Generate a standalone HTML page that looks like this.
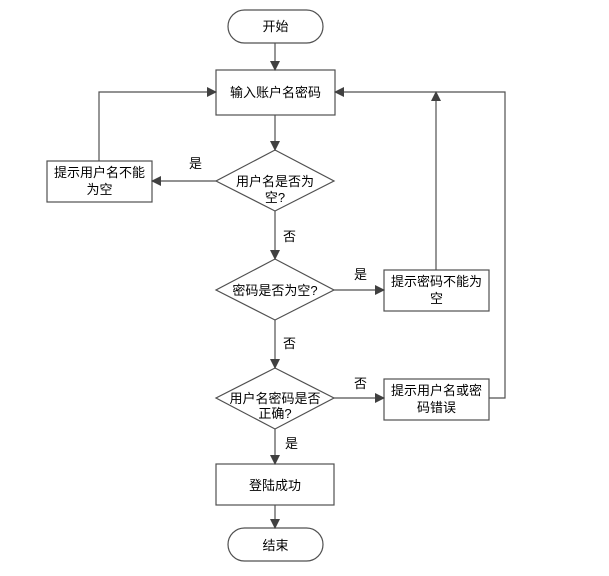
<!DOCTYPE html>
<html><head><meta charset="utf-8"><style>
body{margin:0;background:#fff;}
svg text{font-family:"Liberation Sans","Noto Sans CJK SC",sans-serif;font-size:13px;fill:#000;}
</style></head><body>
<svg width="609" height="571" viewBox="0 0 609 571" xmlns="http://www.w3.org/2000/svg">
<defs><marker id="a" markerWidth="10" markerHeight="10" refX="9" refY="5" orient="auto" markerUnits="userSpaceOnUse"><path d="M0,0 L10,5 L0,10 z" fill="#404040"/></marker></defs>
<g fill="#fff" stroke="#505050" stroke-width="1.2">
<rect x="228" y="10" width="95" height="33" rx="16.5"/>
<rect x="216" y="70" width="119" height="45"/>
<polygon points="275,150 334,181 275,211 216,181"/>
<rect x="47" y="161" width="105" height="41"/>
<polygon points="275,259 334,290 275,320 216,290"/>
<rect x="384" y="270" width="105" height="41"/>
<polygon points="275,368 334,398 275,429 216,398"/>
<rect x="384" y="379" width="105" height="41"/>
<rect x="216" y="464" width="118" height="41"/>
<rect x="228" y="528" width="95" height="33" rx="16.5"/>
</g>
<g fill="none" stroke="#505050" stroke-width="1.2" marker-end="url(#a)">
<line x1="275" y1="43" x2="275" y2="70"/>
<line x1="275" y1="115" x2="275" y2="150"/>
<line x1="216" y1="181" x2="152" y2="181"/>
<polyline points="99,161 99,92 216,92"/>
<line x1="275" y1="211" x2="275" y2="259"/>
<line x1="334" y1="290" x2="384" y2="290"/>
<line x1="436" y1="270" x2="436" y2="92"/>
<line x1="275" y1="320" x2="275" y2="368"/>
<line x1="334" y1="398" x2="384" y2="398"/>
<polyline points="489,398 505,398 505,92 335,92"/>
<line x1="275" y1="429" x2="275" y2="464"/>
<line x1="275" y1="505" x2="275" y2="528"/>
</g>
<text x="275.5" y="31" text-anchor="middle">开始</text>
<text x="275.5" y="97" text-anchor="middle">输入账户名密码</text>
<text x="275" y="186" text-anchor="middle">用户名是否为</text>
<text x="275" y="202" text-anchor="middle">空?</text>
<text x="99.5" y="177" text-anchor="middle">提示用户名不能</text>
<text x="99.5" y="194" text-anchor="middle">为空</text>
<text x="275" y="295" text-anchor="middle">密码是否为空?</text>
<text x="436.5" y="286" text-anchor="middle">提示密码不能为</text>
<text x="436.5" y="303" text-anchor="middle">空</text>
<text x="275" y="403" text-anchor="middle">用户名密码是否</text>
<text x="275" y="418" text-anchor="middle">正确?</text>
<text x="436.5" y="395" text-anchor="middle">提示用户名或密</text>
<text x="436.5" y="412" text-anchor="middle">码错误</text>
<text x="275" y="490" text-anchor="middle">登陆成功</text>
<text x="275.5" y="550" text-anchor="middle">结束</text>
<text x="189" y="168">是</text>
<text x="283" y="241">否</text>
<text x="354" y="279">是</text>
<text x="283" y="348">否</text>
<text x="354" y="388">否</text>
<text x="285" y="448">是</text>
</svg>
</body></html>
